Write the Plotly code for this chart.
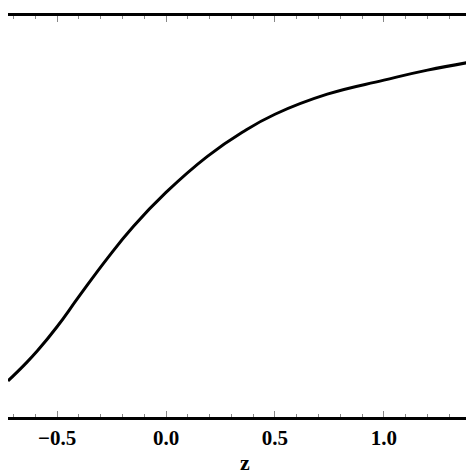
import plotly.graph_objects as go

z = [-0.725, -0.65, -0.59, -0.5, -0.4, -0.27, -0.15, 0.0, 0.19, 0.35, 0.5, 0.74, 1.0, 1.2, 1.45]
f = [0.09, 0.13, 0.165, 0.225, 0.30, 0.395, 0.475, 0.56, 0.65, 0.71, 0.755, 0.805, 0.84, 0.865, 0.89]

fig = go.Figure(go.Scatter(x=z, y=f, mode="lines", line=dict(color="black", width=3, shape="spline", smoothing=1.3), hoverinfo="skip"))
fig.update_layout(
    width=474, height=474, margin=dict(l=0, r=0, t=8, b=65, autoexpand=False),
    paper_bgcolor="white", plot_bgcolor="white", showlegend=False,
    font=dict(family="Liberation Serif", color="black"),
)
common = dict(range=[-0.725, 1.45], showgrid=False, zeroline=False, showline=True, linecolor="black", linewidth=3,
              ticks="inside", ticklen=6, tickcolor="#888", tickwidth=1, automargin=False,
              minor=dict(ticks="inside", ticklen=3, tickcolor="#888", dtick=0.1, tick0=0))
fig.update_xaxes(**common, tickvals=[-0.5, 0.0, 0.5, 1.0, 1.5], ticktext=["<b>−0.5</b>", "<b>0.0</b>", "<b>0.5</b>", "<b>1.0</b>", "<b>1.5</b>"],
                 tickfont=dict(size=21), title=dict(text="<b>z</b>", font=dict(size=22), standoff=6))
fig.add_trace(go.Scatter(x=[None], y=[None], xaxis="x2", showlegend=False))
fig.update_layout(xaxis2=dict(**common, tickvals=[-0.5, 0.0, 0.5, 1.0, 1.5], overlaying="x", side="top", showticklabels=False, matches="x"))
fig.update_yaxes(range=[0, 1], showgrid=False, zeroline=False, showticklabels=False, showline=False, automargin=False)
fig.write_html("out.html")
